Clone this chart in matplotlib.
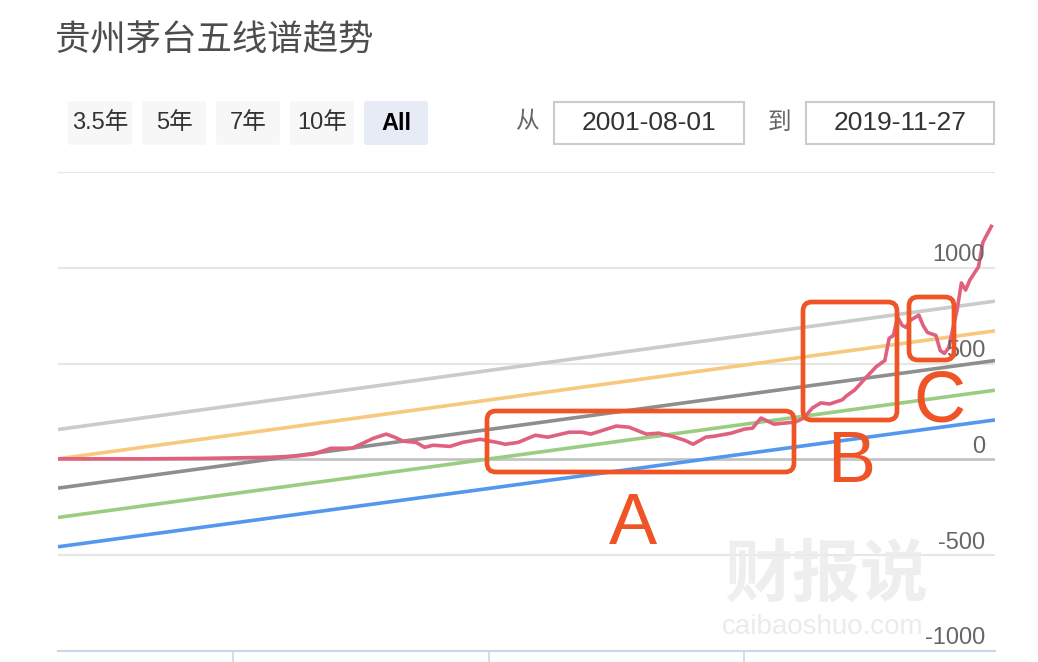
'''Moutai five-line trend chart (贵州茅台五线谱趋势)

To run: python3 plot.py
'''

import pandas as pd
import matplotlib
matplotlib.use('Agg')
import matplotlib.pyplot as plt
import matplotlib.transforms as mtransforms
from matplotlib.patches import FancyBboxPatch, Rectangle

plt.rcParams['font.family'] = ['Liberation Sans', 'Noto Sans CJK SC']

W, H = 1038, 662

title = '贵州茅台五线谱趋势'
range_buttons = ['3.5年', '5年', '7年', '10年', 'All']
selected_button = 'All'
date_from = '2001-08-01'
date_to = '2019-11-27'

# monthly price
price_dates = ['2001-08', '2002-05', '2003-05', '2004-05', '2005-02', '2005-10', '2006-04',
               '2006-08', '2006-12', '2007-05', '2007-08', '2007-10', '2008-01', '2008-03',
               '2008-05', '2008-08', '2008-10', '2008-12', '2009-04', '2009-07', '2009-11',
               '2010-03', '2010-05', '2010-08', '2010-12', '2011-03', '2011-08', '2011-11',
               '2012-01', '2012-07', '2012-10', '2013-02', '2013-05', '2013-08', '2013-11',
               '2014-01', '2014-04', '2014-06', '2014-10', '2015-01', '2015-03', '2015-05',
               '2015-08', '2016-01', '2016-03', '2016-05', '2016-07', '2016-09', '2016-12',
               '2017-01', '2017-03', '2017-06', '2017-08', '2017-10', '2017-11', '2017-12',
               '2018-01', '2018-02', '2018-03', '2018-04', '2018-06', '2018-07', '2018-08',
               '2018-10', '2018-11', '2018-12', '2019-01', '2019-02', '2019-03', '2019-04',
               '2019-05', '2019-06', '2019-08', '2019-09', '2019-10', '2019-11']
price_values = [3, 3, 3, 5, 8, 11, 18,
                28, 58, 58, 89, 110, 132, 116,
                95, 89, 63, 74, 68, 89, 105,
                89, 79, 89, 126, 116, 142, 142,
                132, 174, 168, 132, 137, 121, 100,
                79, 116, 121, 137, 158, 163, 216,
                184, 195, 216, 268, 295, 289, 311,
                332, 363, 437, 484, 516, 632, 647,
                742, 700, 689, 726, 753, 700, 663,
                647, 568, 553, 584, 689, 779, 921,
                884, 937, 1005, 1132, 1174, 1216]

# the five trend lines: value at date_from and at date_to
line_start = [156, 3, -150, -303, -456]
line_end = [826, 671, 516, 361, 206]
line_colors = ['#cbcbcb', '#f6c97c', '#8e8e8e', '#9acd82', '#5298ee']

y_grid = [-500, 500, 1000, 1500]
y_labels = [1000, 500, 0, -500, -1000]
x_ticks = ['2005-01-01', '2010-01-01', '2015-01-01']

ann_color = '#ee5426'

fig = plt.figure(figsize=(W / 100, H / 100), dpi=100)
fig.patch.set_facecolor('white')

# pixel coords, origin top-left
px = mtransforms.Affine2D().scale(1 / 100, -1 / 100).translate(0, H / 100) + fig.dpi_scale_trans

ax = fig.add_axes([58 / W, 1 - 651 / H, (995 - 58) / W, (651 - 172) / H])
ax.set_xlim(pd.Timestamp(date_from), pd.Timestamp(date_to))
ax.set_ylim(-1000, 1500)

for v in y_grid:
    ax.axhline(v, color='#e6e6e6', lw=1.5, zorder=1)
ax.axhline(0, color='#c4c4c4', lw=2, zorder=1)

for s in ['top', 'right', 'left']:
    ax.spines[s].set_visible(False)
ax.spines['bottom'].set_color('#ccd6eb')
ax.spines['bottom'].set_linewidth(1.5)
ax.set_yticks([])
ax.set_xticks(pd.to_datetime(x_ticks))
ax.tick_params(axis='x', direction='out', length=8, width=1.2, color='#ccd6eb', labelbottom=False)

# five lines
ends = [pd.Timestamp(date_from), pd.Timestamp(date_to)]
for v0, v1, c in zip(line_start, line_end, line_colors):
    ax.plot(ends, [v0, v1], color=c, lw=2.6, solid_capstyle='butt', zorder=2)

# price
ax.plot(pd.to_datetime(price_dates, format='%Y-%m'), price_values, color='#e0607e', lw=2.6,
        solid_joinstyle='round', zorder=3)

# y labels inside the plot, right aligned, above gridlines
lab_trans = mtransforms.offset_copy(ax.get_yaxis_transform(), fig=fig, y=12.5, units='dots')
for v in y_labels:
    ax.text((985 - 58) / 937, v, str(v), transform=lab_trans, ha='right', va='center',
            fontsize=17, color='#666666', zorder=4, clip_on=False)

# watermark
fig.text(826, 576, '财报说', transform=px, ha='center', va='center', fontsize=49,
         family='Noto Sans CJK SC', fontweight='bold', color='#ececec', alpha=0.85, zorder=5)
fig.text(823, 627, 'caibaoshuo.com', transform=px, ha='center', va='center', fontsize=20,
         color='#e8e8e8', alpha=0.85, zorder=5)

# title
fig.text(55, 41, title, transform=px, ha='left', va='center', fontsize=25.5,
         family='Noto Sans CJK SC', color='#4d4d4d')

# range buttons
btn_x = [68, 142, 216, 290, 364]
for bx, label in zip(btn_x, range_buttons):
    sel = label == selected_button
    fig.patches.append(FancyBboxPatch((bx, 101), 64, 44, boxstyle='round,pad=0,rounding_size=3',
                                      transform=px, facecolor='#e6ebf5' if sel else '#f7f7f7',
                                      edgecolor='none'))
    fig.text(bx + 32, 123, label, transform=px, ha='center', va='center', fontsize=17,
             color='#000000' if sel else '#333333', fontweight='bold' if sel else 'normal')

# date range inputs
fig.text(528, 122, '从', transform=px, ha='center', va='center', fontsize=17,
         family='Noto Sans CJK SC', color='#666666')
fig.text(779, 122, '到', transform=px, ha='center', va='center', fontsize=17,
         family='Noto Sans CJK SC', color='#666666')
for x0, x1, txt in [(554, 744, date_from), (806, 994, date_to)]:
    fig.patches.append(Rectangle((x0, 102), x1 - x0, 42, transform=px, facecolor='white',
                                 edgecolor='#cccccc', lw=1.5))
    fig.text((x0 + x1) / 2, 123, txt, transform=px, ha='center', va='center', fontsize=19,
             color='#333333')

# annotation boxes
boxes = [(487, 411, 794, 472), (803, 302, 897, 420), (909, 297, 954, 360)]
for x0, y0, x1, y1 in boxes:
    fig.patches.append(FancyBboxPatch((x0, y0), x1 - x0, y1 - y0,
                                      boxstyle='round,pad=0,rounding_size=9', transform=px,
                                      facecolor='none', edgecolor=ann_color, lw=3.4, zorder=6))
for lx, ly, letter in [(633, 525, 'A'), (851, 463, 'B'), (939, 403, 'C')]:
    fig.text(lx, ly, letter, transform=px, ha='center', va='center', fontsize=52,
             color=ann_color, zorder=6)

fig.savefig('out.png', dpi=100, facecolor='white')
